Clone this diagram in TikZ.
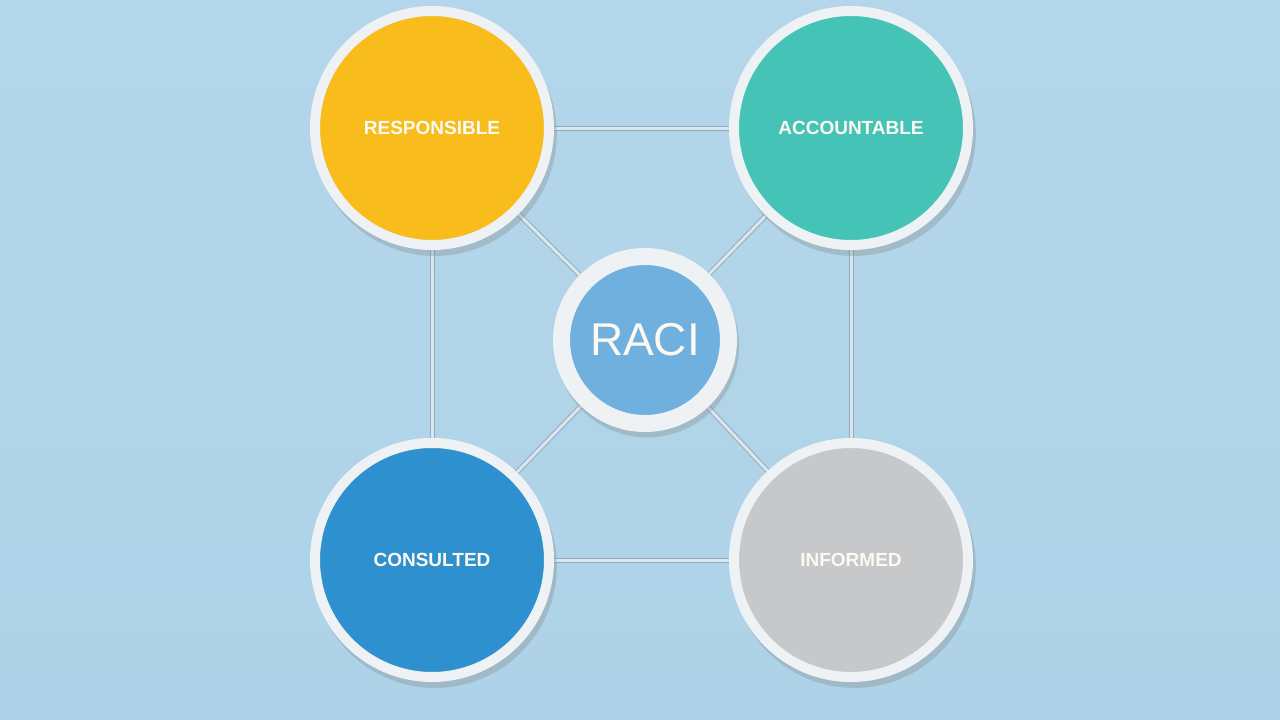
\documentclass[tikz,border=0pt]{standalone}
\usepackage{fontspec}
\setmainfont{Liberation Sans}
\usetikzlibrary{shadows,backgrounds}
\definecolor{bgtop}{HTML}{B4D6EA}
\definecolor{bgmid}{HTML}{A3CAE2}
\definecolor{bgbot}{HTML}{AED2E7}
\definecolor{raciyellow}{HTML}{F8BD1D}
\definecolor{raciteal}{HTML}{45C3B7}
\definecolor{raciblue}{HTML}{2F90D0}
\definecolor{racigray}{HTML}{C6C8CA}
\definecolor{racihub}{HTML}{6FB0DE}
\definecolor{ringwhite}{HTML}{EEF2F5}
\definecolor{linkgray}{HTML}{93ADBD}
\definecolor{linkfill}{HTML}{D9E6EE}
\definecolor{labelwhite}{HTML}{FBF9F1}

\begin{document}
\begin{tikzpicture}[x=1pt, y=-1pt,
  role/.style={circle, draw=ringwhite, line width=10pt, minimum size=234pt, inner sep=0pt,
    drop shadow={opacity=0.3, shadow xshift=3pt, shadow yshift=-6pt, shadow scale=1.04},
    text=labelwhite, font=\bfseries\fontsize{19}{22}\selectfont},
  hub/.style={circle, draw=ringwhite, line width=17pt, fill=racihub, minimum size=167pt, inner sep=0pt,
    drop shadow={opacity=0.3, shadow xshift=2pt, shadow yshift=-5pt, shadow scale=1.1},
    text=labelwhite, font=\fontsize{46}{50}\selectfont},
  link/.style={draw=linkgray, line width=1pt, double=linkfill, double distance=3pt}]
        \useasboundingbox (0,0) rectangle (1280,720);
        % Roles
        \node[role, fill=raciyellow] (resp) at (432,128) {RESPONSIBLE};
        \node[role, fill=raciteal] (acc) at (851,128) {ACCOUNTABLE};
        \node[role, fill=raciblue] (cons) at (432,560) {CONSULTED};
        \node[role, fill=racigray] (inf) at (851,560) {INFORMED};
        % Hub
        \node[hub] (raci) at (645,340) {RACI};
        \begin{scope}[on background layer]
          % Backdrop
          \fill[top color=bgtop, middle color=bgmid, bottom color=bgbot] (0,0) rectangle (1280,720);
          % Square of links
          \foreach \a/\b in {resp/acc, acc/inf, inf/cons, cons/resp} {
            \draw[link] (\a) -- (\b);
          }
          % Spokes to the hub
          \foreach \a in {resp, acc, cons, inf} {
            \draw[link] (\a) -- (raci);
          }
        \end{scope}
      \end{tikzpicture}
\end{document}
